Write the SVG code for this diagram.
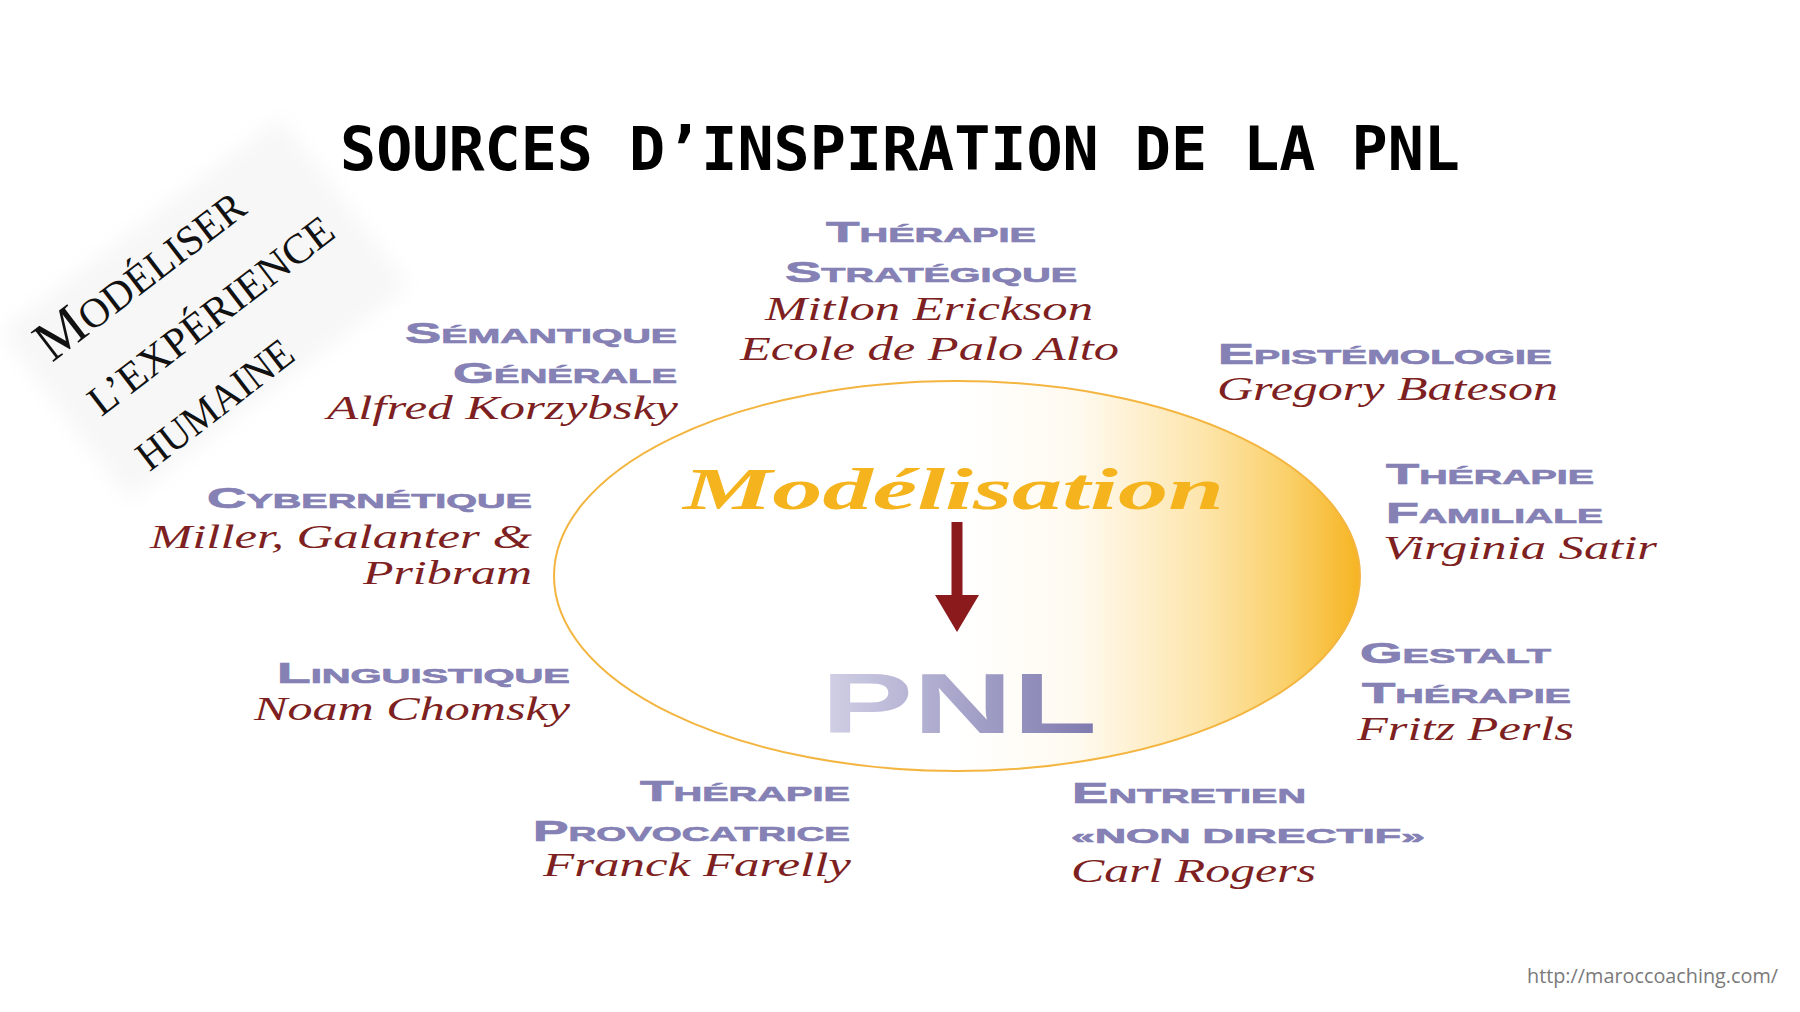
<svg xmlns="http://www.w3.org/2000/svg" width="1800" height="1012" viewBox="0 0 1800 1012">
<style>
.lbl{font-family:"Liberation Sans",Arial,sans-serif;font-weight:bold;fill:#8581B5;stroke:#8581B5;stroke-width:0.7px}
.b{font-size:29px}
.s{font-size:21px}
.nm{font-family:"Liberation Serif","Times New Roman",serif;font-style:italic;font-size:34px;fill:#7E1F22}
.diag{font-family:"Liberation Serif","Times New Roman",serif;fill:#111}
</style>
<defs>
<linearGradient id="ellG" x1="0" y1="0" x2="1" y2="0">
<stop offset="0" stop-color="#ffffff"/>
<stop offset="0.5" stop-color="#ffffff"/>
<stop offset="0.65" stop-color="#fffaf0"/>
<stop offset="0.8" stop-color="#fde6ae"/>
<stop offset="0.91" stop-color="#fad06a"/>
<stop offset="1" stop-color="#f6b422"/>
</linearGradient>
<linearGradient id="pnlG" x1="0" y1="0" x2="1" y2="0">
<stop offset="0" stop-color="#d2d1e6"/>
<stop offset="1" stop-color="#7d79ae"/>
</linearGradient>
<filter id="soft" x="-10%" y="-10%" width="120%" height="120%">
<feGaussianBlur stdDeviation="10"/>
</filter>
</defs>
<rect width="1800" height="1012" fill="#ffffff"/>

<g id="title">
<text x="900" y="170" text-anchor="middle" font-family="'DejaVu Sans Mono',monospace" font-weight="bold" font-size="60" fill="#000">SOURCES D’INSPIRATION DE LA PNL</text>
</g>

<g id="modeliser" transform="translate(52,363) rotate(-37.5)">
<rect x="-22" y="-56" width="352" height="212" fill="#f7f7f7" filter="url(#soft)"/>
<text class="diag" x="0" y="0" textLength="248" lengthAdjust="spacingAndGlyphs"><tspan font-size="57">M</tspan><tspan font-size="42">ODÉLISER</tspan></text>
<text class="diag" x="6" y="73" font-size="42" textLength="298" lengthAdjust="spacingAndGlyphs">L’EXPÉRIENCE</text>
<text class="diag" x="11" y="146" font-size="42" textLength="186" lengthAdjust="spacingAndGlyphs">HUMAINE</text>
</g>

<g id="center">
<ellipse cx="957" cy="576" rx="403" ry="195" fill="url(#ellG)" stroke="#f4b540" stroke-width="2"/>
<text x="683" y="509" font-family="'Liberation Serif','Times New Roman',serif" font-style="italic" font-weight="bold" font-size="60" fill="#f5b41e" textLength="541" lengthAdjust="spacingAndGlyphs">Modélisation</text>
<text x="821" y="733" font-family="'Liberation Sans',Arial,sans-serif" font-weight="bold" font-size="85" fill="url(#pnlG)" textLength="276" lengthAdjust="spacingAndGlyphs">PNL</text>
</g>

<g id="connectors">
<rect x="951.5" y="522" width="11" height="75" fill="#8b1a1d"/>
<polygon points="935,595 979,595 957,632" fill="#8b1a1d"/>
</g>

<g id="strategique">
<text class="lbl" x="826" y="242" textLength="210" lengthAdjust="spacingAndGlyphs"><tspan class="b">T</tspan><tspan class="s">HÉRAPIE</tspan></text>
<text class="lbl" x="785" y="282" textLength="292" lengthAdjust="spacingAndGlyphs"><tspan class="b">S</tspan><tspan class="s">TRATÉGIQUE</tspan></text>
<text class="nm" x="765" y="320" textLength="328" lengthAdjust="spacingAndGlyphs">Mitlon Erickson</text>
<text class="nm" x="740" y="360" textLength="379" lengthAdjust="spacingAndGlyphs">Ecole de Palo Alto</text>
</g>

<g id="semantique">
<text class="lbl" x="405" y="343" textLength="272" lengthAdjust="spacingAndGlyphs"><tspan class="b">S</tspan><tspan class="s">ÉMANTIQUE</tspan></text>
<text class="lbl" x="453" y="383" textLength="224" lengthAdjust="spacingAndGlyphs"><tspan class="b">G</tspan><tspan class="s">ÉNÉRALE</tspan></text>
<text class="nm" x="327" y="419" textLength="351" lengthAdjust="spacingAndGlyphs">Alfred Korzybsky</text>
</g>

<g id="epistemologie">
<text class="lbl" x="1218" y="364" textLength="334" lengthAdjust="spacingAndGlyphs"><tspan class="b">E</tspan><tspan class="s">PISTÉMOLOGIE</tspan></text>
<text class="nm" x="1217" y="400" textLength="341" lengthAdjust="spacingAndGlyphs">Gregory Bateson</text>
</g>

<g id="familiale">
<text class="lbl" x="1386" y="484" textLength="208" lengthAdjust="spacingAndGlyphs"><tspan class="b">T</tspan><tspan class="s">HÉRAPIE</tspan></text>
<text class="lbl" x="1386" y="523" textLength="217" lengthAdjust="spacingAndGlyphs"><tspan class="b">F</tspan><tspan class="s">AMILIALE</tspan></text>
<text class="nm" x="1383" y="559" textLength="274" lengthAdjust="spacingAndGlyphs">Virginia Satir</text>
</g>

<g id="cybernetique">
<text class="lbl" x="207" y="508" textLength="325" lengthAdjust="spacingAndGlyphs"><tspan class="b">C</tspan><tspan class="s">YBERNÉTIQUE</tspan></text>
<text class="nm" x="150" y="548" textLength="382" lengthAdjust="spacingAndGlyphs">Miller, Galanter &amp;</text>
<text class="nm" x="363" y="584" textLength="169" lengthAdjust="spacingAndGlyphs">Pribram</text>
</g>

<g id="linguistique">
<text class="lbl" x="277" y="683" textLength="293" lengthAdjust="spacingAndGlyphs"><tspan class="b">L</tspan><tspan class="s">INGUISTIQUE</tspan></text>
<text class="nm" x="254" y="720" textLength="316" lengthAdjust="spacingAndGlyphs">Noam Chomsky</text>
</g>

<g id="gestalt">
<text class="lbl" x="1360" y="663" textLength="191" lengthAdjust="spacingAndGlyphs"><tspan class="b">G</tspan><tspan class="s">ESTALT</tspan></text>
<text class="lbl" x="1362" y="703" textLength="209" lengthAdjust="spacingAndGlyphs"><tspan class="b">T</tspan><tspan class="s">HÉRAPIE</tspan></text>
<text class="nm" x="1357" y="740" textLength="217" lengthAdjust="spacingAndGlyphs">Fritz Perls</text>
</g>

<g id="provocatrice">
<text class="lbl" x="640" y="801" textLength="210" lengthAdjust="spacingAndGlyphs"><tspan class="b">T</tspan><tspan class="s">HÉRAPIE</tspan></text>
<text class="lbl" x="533" y="841" textLength="317" lengthAdjust="spacingAndGlyphs"><tspan class="b">P</tspan><tspan class="s">ROVOCATRICE</tspan></text>
<text class="nm" x="543" y="876" textLength="308" lengthAdjust="spacingAndGlyphs">Franck Farelly</text>
</g>

<g id="entretien">
<text class="lbl" x="1072" y="803" textLength="234" lengthAdjust="spacingAndGlyphs"><tspan class="b">E</tspan><tspan class="s">NTRETIEN</tspan></text>
<text class="lbl s" x="1071" y="843" textLength="354" lengthAdjust="spacingAndGlyphs">«NON DIRECTIF»</text>
<text class="nm" x="1071" y="882" textLength="245" lengthAdjust="spacingAndGlyphs">Carl Rogers</text>
</g>

<g id="source">
<text x="1527" y="983" font-family="'Open Sans','Liberation Sans',sans-serif" font-size="20" fill="#7a7a7a" textLength="251" lengthAdjust="spacingAndGlyphs">http://maroccoaching.com/</text>
</g>
</svg>
